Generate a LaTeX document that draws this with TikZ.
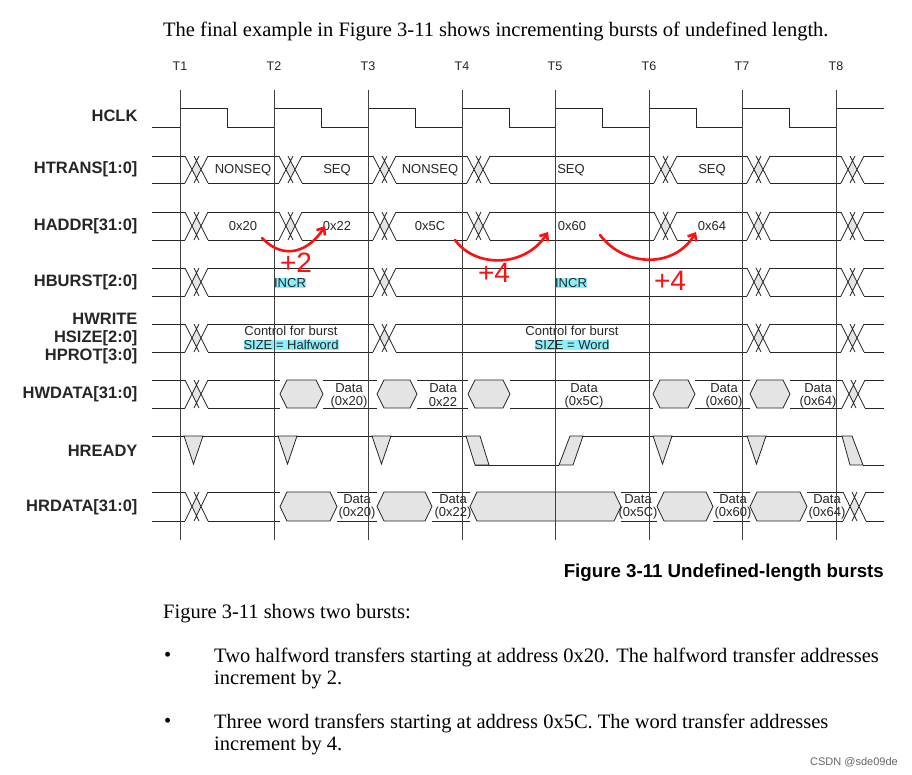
\documentclass[tikz,border=0pt]{standalone}
\usepackage{fontspec}
\setmainfont{Liberation Serif}
\newfontfamily\sig{Liberation Sans}
\usetikzlibrary{arrows.meta}
\definecolor{grayfill}{HTML}{E4E4E4}
\definecolor{hl}{HTML}{8AEFFA}
\definecolor{ann}{HTML}{FF1010}
\newcommand{\cx}[3]{%
  \fill[white] (#1,#2-1) rectangle (#1+23,#3+1);
  \fill[grayfill] (#1+7,{(#2+#3)/2}) -- (#1+11.5,#2+4) -- (#1+16,{(#2+#3)/2}) -- (#1+11.5,#3-4) -- cycle;
  \draw[wave] (#1,#2) -- (#1+14,#3) (#1,#3) -- (#1+14,#2) (#1+9,#2) -- (#1+23,#3) (#1+9,#3) -- (#1+23,#2);}
\newcommand{\hx}[4]{%
  \fill[white] (#1,#3-1) rectangle (#2,#4+1);
  \draw[wave,fill=grayfill] (#1,{(#3+#4)/2}) -- (#1+7,#3) -- (#2-7,#3) -- (#2,{(#3+#4)/2}) -- (#2-7,#4) -- (#1+7,#4) -- cycle;}
\begin{document}
\begin{tikzpicture}[x=1pt,y=-1pt,
  wave/.style={line width=0.8pt,draw=black!85},
  lbl/.style={font=\sig\bfseries\fontsize{16.5}{17}\selectfont,anchor=east,text=black!85},
  txt/.style={font=\sig\fontsize{13}{14}\selectfont,text=black!85,inner sep=0pt},
  hlt/.style={txt,fill=hl},
  body/.style={font=\fontsize{20.5}{22}\selectfont,anchor=west,inner sep=0pt},
  red/.style={draw=ann,line width=2.6pt,line cap=round},
  hand/.style={font=\sig\fontsize{28}{28}\selectfont,text=ann,inner sep=0pt}]
\useasboundingbox[fill=white] (0,0) rectangle (912,775);
% top text
\node[body] (intro) at (163,31) {The final example in Figure 3-11 shows incrementing bursts of undefined length.};
% T labels
\foreach \i/\x in {1/180,2/274,3/368,4/462,5/555,6/649,7/742,8/836}
  \node[txt,font=\sig\fontsize{12.5}{13}\selectfont] (t\i) at (\x,66) {T\i};
% signal names
\node[lbl] (n1) at (141,116) {HCLK};
\node[lbl] (n2) at (141,169) {HTRANS[1:0]};
\node[lbl] (n3) at (141,226) {HADDR[31:0]};
\node[lbl] (n4) at (141,282) {HBURST[2:0]};
\node[lbl] (n5) at (141,319) {HWRITE};
\node[lbl] (n6) at (141,338) {HSIZE[2:0]};
\node[lbl] (n7) at (141,356) {HPROT[3:0]};
\node[lbl] (n8) at (141,394) {HWDATA[31:0]};
\node[lbl] (n9) at (141,451) {HREADY};
\node[lbl] (n10) at (141,507) {HRDATA[31:0]};
% clock
\draw[wave] (152,127) -- (180,127)
  \foreach \x in {180,274,368,462,555,649,742} { -- (\x,127) -- (\x,108) -- (\x+47,108) -- (\x+47,127) }
  -- (836,127) -- (836,108) -- (884,108);
% bus rows
\foreach \t/\b in {156/183,212/240,268/296,324/352,380/408,492/521}
  \draw[wave] (152,\t) -- (884,\t) (152,\b) -- (884,\b);
\foreach \x in {185,279,373,467,654,747,841} {\cx{\x}{156}{183}\cx{\x}{212}{240}}
\foreach \x in {185,373,747,841} {\cx{\x}{268}{296}\cx{\x}{324}{352}}
\cx{185}{380}{408}\cx{842}{380}{408}
\hx{280}{323}{380}{408}\hx{377}{417}{380}{408}\hx{468}{510}{380}{408}\hx{653}{695}{380}{408}\hx{750}{790}{380}{408}
\cx{185}{492}{521}\cx{843}{492}{521}
\hx{280}{337}{492}{521}\hx{377}{432}{492}{521}\hx{470}{621}{492}{521}\hx{657}{713}{492}{521}\hx{750}{807}{492}{521}
% HREADY
\draw[wave] (152,436) -- (480,436) (475,465) -- (559,465) (570,436) -- (852,436) (863,465) -- (884,465);
\foreach \x in {184,278,372,653,747}
  \draw[wave,fill=grayfill] (\x,436) -- (\x+19,436) -- (\x+9.5,464) -- cycle;
\draw[wave,fill=grayfill] (466,436) -- (480,436) -- (489,465) -- (475,465) -- cycle;
\draw[wave,fill=grayfill] (559,465) -- (573,465) -- (583,436) -- (570,436) -- cycle;
\draw[wave,fill=grayfill] (842,436) -- (852,436) -- (863,465) -- (850,465) -- cycle;
% texts in rows
\node[txt] (a1) at (243,170) {NONSEQ};
\node[txt] (a2) at (337,170) {SEQ};
\node[txt] (a3) at (430,170) {NONSEQ};
\node[txt] (a4) at (571,170) {SEQ};
\node[txt] (a5) at (712,170) {SEQ};
\node[txt] (b1) at (243,226) {0x20};
\node[txt] (b2) at (337,226) {0x22};
\node[txt] (b3) at (430,226) {0x5C};
\node[txt] (b4) at (572,226) {0x60};
\node[txt] (b5) at (712,226) {0x64};
\node[hlt] (c1) at (290,283) {INCR};
\node[hlt] (c2) at (571,283) {INCR};
\node[txt] (d1) at (291,331) {Control for burst};
\node[hlt] (d2) at (291,345) {SIZE = Halfword};
\node[txt] (d3) at (572,331) {Control for burst};
\node[hlt] (d4) at (572,345) {SIZE = Word};
\foreach \x/\s/\n in {349/(0x20)/w1,443/0x22/w2,584/(0x5C)/w3,724/(0x60)/w4,818/(0x64)/w5} {
  \node[txt] (\n a) at (\x,388) {Data};
  \node[txt] (\n b) at (\x,402) {\s};}
\foreach \x/\s/\n in {357/(0x20)/r1,453/(0x22)/r2,638/(0x5C)/r3,733/(0x60)/r4,827/(0x64)/r5} {
  \node[txt] (\n a) at (\x,499) {Data};
  \node[txt] (\n b) at (\x,513) {\s};}
% clock edge lines
\foreach \x in {180,274,368,462,555,649,742,836}
  \draw[line width=0.9pt,draw=black!75] (\x,90) -- (\x,540);
% red annotations
\coordinate (p1) at (262,238); \coordinate (p2) at (325,226);
\draw[red,-{Straight Barb[length=6pt,width=10pt]}] (p1) .. controls (285,262) and (310,250) .. (p2);
\node[hand] (h1) at (296,263) {+2};
\coordinate (q1) at (455,240); \coordinate (q2) at (548,232);
\draw[red,-{Straight Barb[length=6pt,width=10pt]}] (q1) .. controls (475,268) and (525,268) .. (q2);
\node[hand] (h2) at (494,273) {+4};
\coordinate (s1) at (600,235); \coordinate (s2) at (696,232);
\draw[red,-{Straight Barb[length=6pt,width=10pt]}] (s1) .. controls (625,268) and (675,268) .. (s2);
\node[hand] (h3) at (670,281) {+4};
% caption and body
\node[font=\sig\bfseries\fontsize{18.7}{20}\selectfont,anchor=east,inner sep=0pt] (cap) at (884,573) {Figure 3-11 Undefined-length bursts};
\node[body] (l1) at (163,614) {Figure 3-11 shows two bursts:};
\node[body] (bu1) at (164,657) {•};
\node[body] (l2) at (214,657) {Two halfword transfers starting at address 0x20. The halfword transfer addresses};
\node[body] (l3) at (214,680) {increment by 2.};
\node[body] (bu2) at (164,723) {•};
\node[body] (l4) at (214,723) {Three word transfers starting at address 0x5C. The word transfer addresses};
\node[body] (l5) at (214,746) {increment by 4.};
\node[font=\sig\fontsize{11}{12}\selectfont,anchor=east,text=black!60,inner sep=0pt] (wm) at (898,762) {CSDN @sde09de};
\end{tikzpicture}
\end{document}
